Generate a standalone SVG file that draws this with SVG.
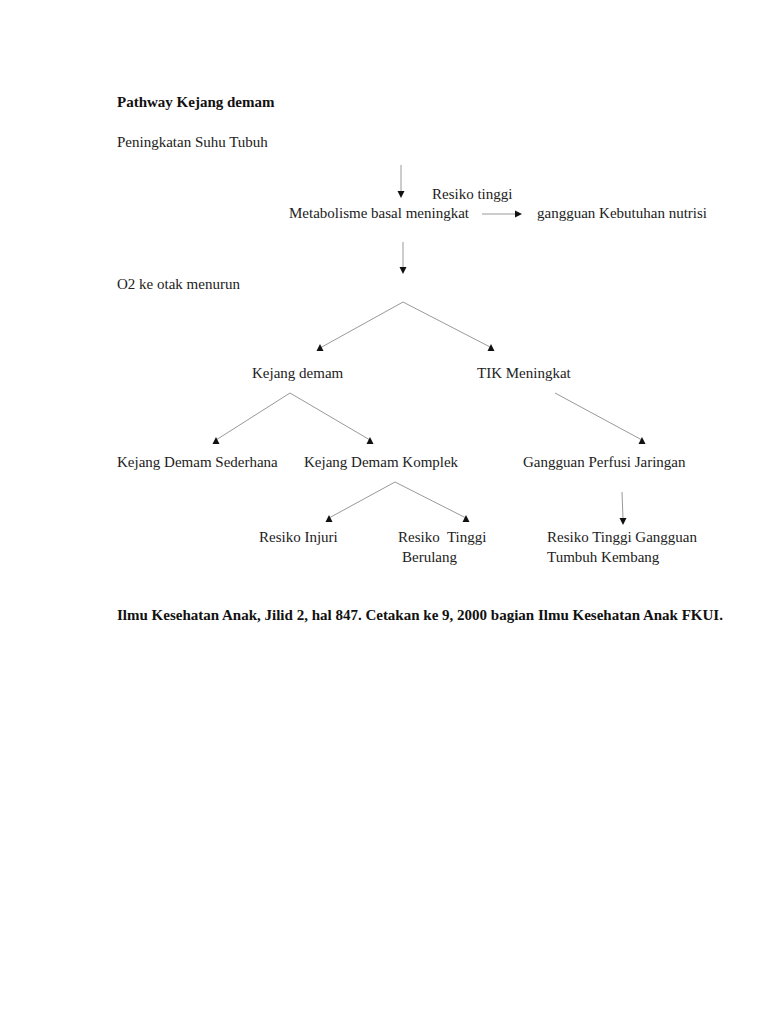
<svg xmlns="http://www.w3.org/2000/svg" width="768" height="1024" viewBox="0 0 768 1024">
<style>
text{font-family:"Liberation Serif","Times New Roman",serif;font-size:15px;fill:#222}
.b{font-weight:bold;fill:#111}
.ln{stroke:#999;stroke-width:1;fill:none}
.ah{fill:#111}
</style>
<rect width="768" height="1024" fill="#fff"/>
<text class="b" x="117" y="107">Pathway Kejang demam</text>
<g id="n-suhu"><text x="117" y="147">Peningkatan Suhu Tubuh</text></g>
<g id="n-metab"><text x="289" y="218">Metabolisme basal meningkat</text></g>
<g id="n-nutrisi"><text x="432" y="199">Resiko tinggi</text><text x="537" y="218">gangguan Kebutuhan nutrisi</text></g>
<g id="n-o2"><text x="117" y="289">O2 ke otak menurun</text></g>
<g id="n-kejang"><text x="252" y="378">Kejang demam</text></g>
<g id="n-tik"><text x="477" y="378">TIK Meningkat</text></g>
<g id="n-sederhana"><text x="117" y="467">Kejang Demam Sederhana</text></g>
<g id="n-komplek"><text x="304" y="467">Kejang Demam Komplek</text></g>
<g id="n-perfusi"><text x="523" y="467">Gangguan Perfusi Jaringan</text></g>
<g id="n-injuri"><text x="259" y="542">Resiko Injuri</text></g>
<g id="n-berulang"><text x="398" y="542" xml:space="preserve">Resiko  Tinggi</text><text x="402" y="562">Berulang</text></g>
<g id="n-tumbuh"><text x="547" y="542">Resiko Tinggi Gangguan</text><text x="547" y="562">Tumbuh Kembang</text></g>
<g id="connectors">
<line class="ln" x1="401" y1="165" x2="401" y2="192"/>
<polygon class="ah" points="397.5,191 404.5,191 401,198"/>
<line class="ln" x1="482" y1="214" x2="516" y2="214"/>
<polygon class="ah" points="515,210.5 515,217.5 522,214"/>
<line class="ln" x1="403" y1="242" x2="403" y2="268"/>
<polygon class="ah" points="399.5,267 406.5,267 403,274"/>
<line class="ln" x1="403" y1="302" x2="320" y2="348"/>
<line class="ln" x1="403" y1="302" x2="492" y2="348"/>
<polygon class="ah" points="320,344 316.5,351 323.5,351"/>
<polygon class="ah" points="491,344 487.5,351 494.5,351"/>
<line class="ln" x1="290" y1="393" x2="216" y2="440"/>
<line class="ln" x1="290" y1="393" x2="370" y2="440"/>
<polygon class="ah" points="216,437 212.5,444 219.5,444"/>
<polygon class="ah" points="370,437 366.5,444 373.5,444"/>
<line class="ln" x1="555" y1="393" x2="642" y2="440"/>
<polygon class="ah" points="642,437 638.5,444 645.5,444"/>
<line class="ln" x1="395" y1="482" x2="329" y2="518"/>
<line class="ln" x1="395" y1="482" x2="466" y2="518"/>
<polygon class="ah" points="329,515 325.5,522 332.5,522"/>
<polygon class="ah" points="466,515 462.5,522 469.5,522"/>
<line class="ln" x1="622" y1="492" x2="623" y2="519"/>
<polygon class="ah" points="619.5,518 626.5,518 623,525"/>
</g>
<text class="b" x="117" y="620">Ilmu Kesehatan Anak, Jilid 2, hal 847. Cetakan ke 9, 2000 bagian Ilmu Kesehatan Anak FKUI.</text>
</svg>
